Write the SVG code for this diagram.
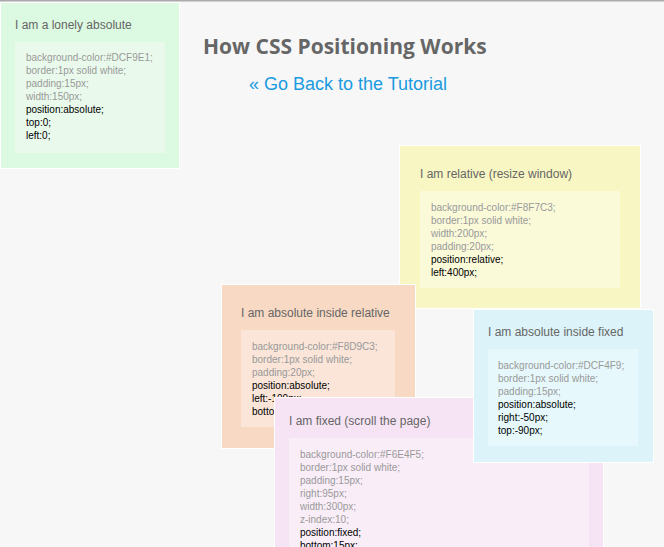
<svg xmlns="http://www.w3.org/2000/svg" width="664" height="547" viewBox="0 0 664 547">
<style>
text{font-family:"Liberation Sans",Arial,sans-serif}
.t{font-size:12px;fill:#666}
.g{font-size:10px;fill:#999}
.k{font-size:10px;fill:#000}
.box{stroke:#fff;stroke-width:1}
</style>
<rect width="664" height="547" fill="#f7f7f7"/>
<rect width="664" height="1.5" fill="#aaa"/>
<g id="lonely">
<rect class="box" x="0.5" y="2.5" width="179" height="166" fill="#DCF9E1"/>
<rect x="15" y="42" width="150" height="111" fill="#E9FAEC"/>
<text class="t" x="15" y="29">I am a lonely absolute</text>
<text class="g" x="26" y="61">background-color:#DCF9E1;</text>
<text class="g" x="26" y="74">border:1px solid white;</text>
<text class="g" x="26" y="87">padding:15px;</text>
<text class="g" x="26" y="100">width:150px;</text>
<text class="k" x="26" y="113">position:absolute;</text>
<text class="k" x="26" y="126">top:0;</text>
<text class="k" x="26" y="139">left:0;</text>
</g>
<g id="header">
<text x="203" y="54" font-size="21" font-weight="bold" fill="#666" style="font-family:'Open Sans','Liberation Sans',sans-serif">How CSS Positioning Works</text>
<text x="249" y="90" font-size="18" fill="#1a9be0">« Go Back to the Tutorial</text>
</g>
<g id="relative">
<rect class="box" x="399.5" y="145.5" width="241" height="163" fill="#F8F7C3"/>
<rect x="420" y="191" width="200" height="97" fill="#FAFAD9"/>
<text class="t" x="420" y="178">I am relative (resize window)</text>
<text class="g" x="431" y="211">background-color:#F8F7C3;</text>
<text class="g" x="431" y="224">border:1px solid white;</text>
<text class="g" x="431" y="237">width:200px;</text>
<text class="g" x="431" y="250">padding:20px;</text>
<text class="k" x="431" y="263">position:relative;</text>
<text class="k" x="431" y="276">left:400px;</text>
</g>
<g id="absrel">
<rect class="box" x="221.5" y="284.5" width="194" height="164" fill="#F8D9C3"/>
<rect x="241" y="330" width="154" height="97" fill="#FAE5D8"/>
<text class="t" x="241" y="317">I am absolute inside relative</text>
<text class="g" x="252" y="350">background-color:#F8D9C3;</text>
<text class="g" x="252" y="363">border:1px solid white;</text>
<text class="g" x="252" y="376">padding:20px;</text>
<text class="k" x="252" y="389">position:absolute;</text>
<text class="k" x="252" y="402">left:-100px;</text>
<text class="k" x="252" y="415">bottom:-20px;</text>
</g>
<g id="fixed">
<rect class="box" x="274.5" y="397.5" width="329" height="160" fill="#F6E4F5"/>
<rect x="289" y="438" width="300" height="120" fill="#F9EDF8"/>
<text class="t" x="289" y="425">I am fixed (scroll the page)</text>
<text class="g" x="300" y="458">background-color:#F6E4F5;</text>
<text class="g" x="300" y="471">border:1px solid white;</text>
<text class="g" x="300" y="484">padding:15px;</text>
<text class="g" x="300" y="497">right:95px;</text>
<text class="g" x="300" y="510">width:300px;</text>
<text class="g" x="300" y="523">z-index:10;</text>
<text class="k" x="300" y="536">position:fixed;</text>
<text class="k" x="300" y="549">bottom:15px;</text>
</g>
<g id="absfixed">
<rect class="box" x="473.5" y="309.5" width="180" height="153" fill="#DCF4F9"/>
<rect x="488" y="349" width="150" height="97" fill="#E6F8FB"/>
<text class="t" x="488" y="336">I am absolute inside fixed</text>
<text class="g" x="498" y="369">background-color:#DCF4F9;</text>
<text class="g" x="498" y="382">border:1px solid white;</text>
<text class="g" x="498" y="395">padding:15px;</text>
<text class="k" x="498" y="408">position:absolute;</text>
<text class="k" x="498" y="421">right:-50px;</text>
<text class="k" x="498" y="434">top:-90px;</text>
</g>
<g id="connectors"/>
</svg>
